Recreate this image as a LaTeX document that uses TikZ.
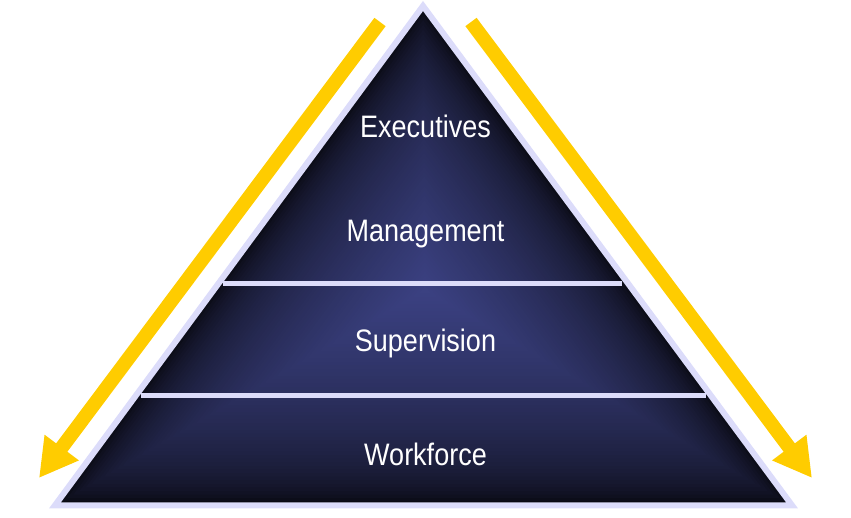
\documentclass[tikz,border=0pt]{standalone}
\usepackage{fontspec}
\setmainfont{Liberation Sans}
\usetikzlibrary{calc,arrows.meta}
\definecolor{pyredge}{HTML}{050509}
\definecolor{pyrmid}{HTML}{3B4182}
\definecolor{pyrline}{HTML}{DCDCFA}
\definecolor{arrowyellow}{HTML}{FFCC00}
\tikzset{
  pyrborder/.style={draw=pyrline, line width=6pt, line join=miter},
  divline/.style={draw=pyrline, line width=4.5pt},
  yarrow/.style={draw=arrowyellow, line width=14pt, -{Triangle[length=38pt,width=40pt]}},
  label/.style={anchor=base, text=white, inner sep=0pt, font=\fontsize{27}{30}\selectfont}
}
\newcommand{\stretchtext}[1]{\scalebox{1}[1.15]{#1}}
\begin{document}
\begin{tikzpicture}[x=1pt, y=-1pt]
\useasboundingbox (0,0) rectangle (851,518);
% pyramid corners and gradient centre
\coordinate (A) at (423,6);
\coordinate (B) at (55,505.3);
\coordinate (D) at (792,505.3);
\coordinate (C) at (425,290);
% path gradient: nested triangles
\foreach \i in {0,...,60}{
  \pgfmathsetmacro\t{\i/60}
  \pgfmathsetmacro\s{1-\t}
  \pgfmathsetmacro\p{100*sqrt(\t)}
  \fill[pyrmid!\p!pyredge] ($(C)!\s!(A)$) -- ($(C)!\s!(B)$) -- ($(C)!\s!(D)$) -- cycle;
}
\draw[pyrborder] (A) -- (B) -- (D) -- cycle;
% dividing lines
\coordinate (l1a) at (223,283.5);
\coordinate (l1b) at (622,283.5);
\coordinate (l2a) at (141,395.5);
\coordinate (l2b) at (706,395.5);
\draw[divline] (l1a) -- (l1b);
\draw[divline] (l2a) -- (l2b);
% labels
\node[label] (exe) at (425.5,138) {\stretchtext{Executives}};
\node[label] (man) at (425.5,242) {\stretchtext{Management}};
\node[label] (sup) at (425.5,352) {\stretchtext{Supervision}};
\node[label] (wor) at (425.5,465) {\stretchtext{Workforce}};
% yellow arrows
\coordinate (la) at (380,22);
\coordinate (lb) at (39,478);
\coordinate (ra) at (471,22);
\coordinate (rb) at (812,478);
\draw[yarrow] (la) -- (lb);
\draw[yarrow] (ra) -- (rb);
\end{tikzpicture}
\end{document}
